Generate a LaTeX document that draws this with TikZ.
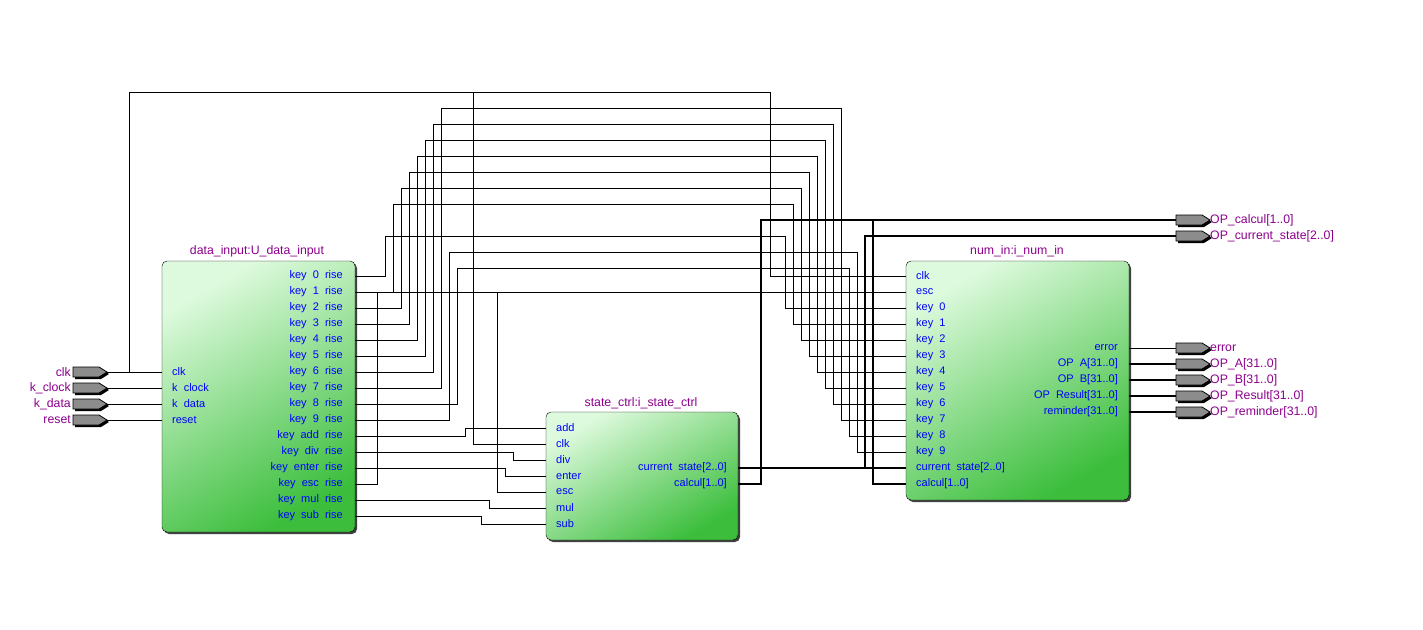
\documentclass[tikz,border=0pt]{standalone}
\usepackage{fontspec}
\setmainfont{Liberation Sans}
\definecolor{gA}{RGB}{222,250,222}
\definecolor{gB}{RGB}{60,190,60}
\definecolor{lbl}{RGB}{140,0,140}
\begin{document}
\begin{tikzpicture}[x=1pt,y=-1pt,
  blk/.style={rounded corners=5pt,draw=black,left color=gA,right color=gB,shading angle=30},
  shd/.style={rounded corners=5pt,fill=black!75},
  pl/.style={font=\fontsize{11}{12}\selectfont,text=blue,inner sep=0pt},
  tl/.style={font=\fontsize{12.3}{13}\selectfont,text=lbl,inner sep=0pt},
  w/.style={draw=black,line width=0.8pt},
  bus/.style={draw=black,line width=2pt},
  pin/.style={fill=black!45,draw=black,line width=0.8pt}]
\useasboundingbox (0,0) rectangle (1423,629);
\newcommand{\mypin}[2]{%
  \fill[black] (#1+2,#2-3) -- (#1+28,#2-3) -- (#1+36,#2+2) -- (#1+28,#2+7) -- (#1+2,#2+7) -- cycle;
  \draw[pin] (#1,#2-5) -- (#1+26,#2-5) -- (#1+34,#2) -- (#1+26,#2+5) -- (#1,#2+5) -- cycle;}
% blocks
\fill[shd] (164,263) rectangle (357,534);
\shade[blk] (162,261) rectangle (355,532);
\fill[shd] (548,414) rectangle (740,542);
\shade[blk] (546,412) rectangle (738,540);
\fill[shd] (908,263) rectangle (1131,502);
\shade[blk] (906,261) rectangle (1129,500);
\node[tl] (tdi) at (257,251) {data\_input:U\_data\_input};
\node[tl] (tsc) at (641,403) {state\_ctrl:i\_state\_ctrl};
\node[tl] (tni) at (1017,251) {num\_in:i\_num\_in};
% data_input ports
\foreach \i in {0,...,9}{
  \coordinate (dik\i) at (355,276+16*\i);
  \node[pl,anchor=east] (ldik\i) at (343,276+16*\i) {key\ \ \i\ \ rise};
  \coordinate (nik\i) at (906,308+16*\i);
  \node[pl,anchor=west] (lnik\i) at (916,308+16*\i) {key\ \ \i};}
\foreach \n/\t [count=\j from 0] in {add/add,div/div,enter/enter,esc/esc,mul/mul,sub/sub}{
  \coordinate (di\n) at (355,436+16*\j);
  \node[pl,anchor=east] (ldi\n) at (343,436+16*\j) {key\ \ \t\ \ rise};}
\foreach \n/\t [count=\j from 0] in {clk/clk,kc/k\ \ clock,kd/k\ \ data,rst/reset}{
  \coordinate (di\n) at (162,372+16*\j);
  \node[pl,anchor=west] (ldi\n) at (172,372+16*\j) {\t};}
% state_ctrl ports
\foreach \n [count=\j from 0] in {add,clk,div,enter,esc,mul,sub}{
  \coordinate (sc\n) at (546,428+16*\j);
  \node[pl,anchor=west] (lsc\n) at (556,428+16*\j) {\n};}
\coordinate (sccs) at (738,468); \node[pl,anchor=east] (lsccs) at (727,468) {current\ \ state[2..0]};
\coordinate (sccal) at (738,484); \node[pl,anchor=east] (lsccal) at (727,484) {calcul[1..0]};
% num_in ports
\coordinate (niclk) at (906,276); \node[pl,anchor=west] (lniclk) at (916,276) {clk};
\coordinate (niesc) at (906,292); \node[pl,anchor=west] (lniesc) at (916,292) {esc};
\coordinate (nics) at (906,468); \node[pl,anchor=west] (lnics) at (916,468) {current\ \ state[2..0]};
\coordinate (nical) at (906,484); \node[pl,anchor=west] (lnical) at (916,484) {calcul[1..0]};
\foreach \n/\t [count=\j from 0] in {err/error,a/OP\ \ A[31..0],b/OP\ \ B[31..0],r/OP\ \ Result[31..0],m/reminder[31..0]}{
  \coordinate (ni\n) at (1129,348+16*\j);
  \node[pl,anchor=east] (lni\n) at (1118,348+16*\j) {\t};}
% input pins
\foreach \n/\t [count=\j from 0] in {clk/clk,kc/k\_clock,kd/k\_data,rst/reset}{
  \mypin{73}{372+16*\j}
  \coordinate (in\n) at (107,372+16*\j);
  \node[tl,anchor=east] (lin\n) at (71,372+16*\j) {\t};
  \draw[w] (in\n) -- (di\n);}
% output pins
\foreach \n/\t/\y in {ocal/OP\_calcul[1..0]/220,ocs/OP\_current\_state[2..0]/236,oerr/error/348,oa/OP\_A[31..0]/364,ob/OP\_B[31..0]/380,or/OP\_Result[31..0]/396,om/OP\_reminder[31..0]/412}{
  \mypin{1176}{\y}
  \coordinate (\n) at (1176,\y);
  \node[tl,anchor=west] (l\n) at (1210,\y) {\t};}
% key wires
\foreach \i/\xa/\yt/\xb in {0/385/236/785,1/393/204/793,2/401/188/801,3/409/172/809,4/417/156/817,5/425/140/825,6/433/124/833,7/441/108/841,8/457/268/849,9/449/252/857}{
  \draw[w] (dik\i) -| (\xa,\yt) -| (\xb,308+16*\i) -- (nik\i);}
% clk
\draw[w] (129,372) |- (770,92) -- (770,276) -- (niclk);
\draw[w] (473,92) |- (scclk);
% esc
\draw[w] (diesc) -| (377,292) -- (niesc);
\draw[w] (497,292) |- (scesc);
\draw[w] (diadd) -| (465,428) -- (scadd);
\draw[w] (didiv) -| (513,460) -- (scdiv);
\draw[w] (dienter) -| (505,476) -- (scenter);
\draw[w] (dimul) -| (489,508) -- (scmul);
\draw[w] (disub) -| (481,524) -- (scsub);
% buses
\draw[bus] (sccs) -- (nics);
\draw[bus] (865,468) |- (ocs);
\draw[bus] (sccal) -| (761,220) -- (ocal);
\draw[bus] (873,220) |- (nical);
\draw[w] (nierr) -- (oerr);
\draw[bus] (nia) -- (oa);
\draw[bus] (nib) -- (ob);
\draw[bus] (nir) -- (or);
\draw[bus] (nim) -- (om);
\end{tikzpicture}
\end{document}
